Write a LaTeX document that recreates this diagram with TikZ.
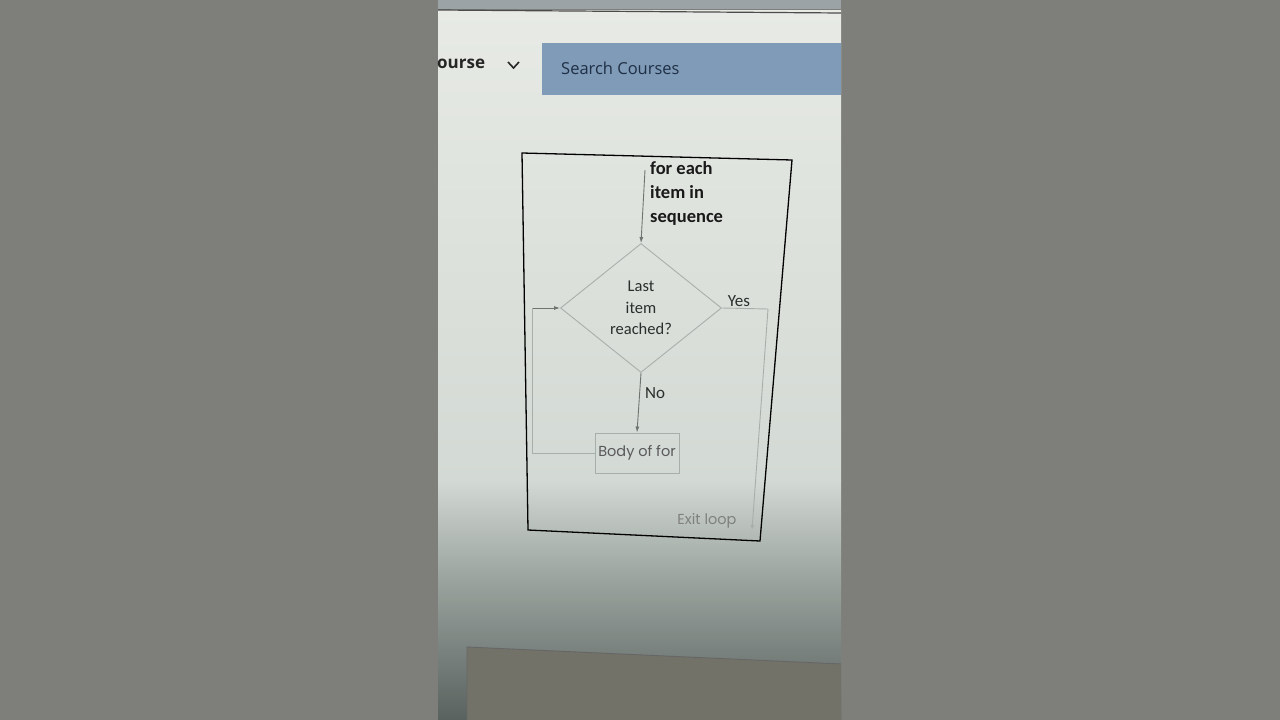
\documentclass[tikz,border=0pt]{standalone}
\usepackage{fontspec}
\setmainfont{Carlito}
\newfontfamily\uifont{Open Sans}
\newfontfamily\geofont{Poppins}
\usetikzlibrary{shapes.geometric,arrows.meta}
\definecolor{sidegray}{HTML}{7E7F7B}
\definecolor{scrA}{HTML}{E7EAE5}
\definecolor{scrB}{HTML}{D3D9D4}
\definecolor{scrC}{HTML}{9AA39E}
\definecolor{scrD}{HTML}{59625E}
\definecolor{topband}{HTML}{9BA3A6}
\definecolor{searchbg}{HTML}{7F9BB8}
\definecolor{searchtxt}{HTML}{1F2F45}
\definecolor{dialine}{HTML}{A8AEAA}
\definecolor{arrowgray}{HTML}{6E7571}
\definecolor{lbltxt}{HTML}{2A2E2C}
\definecolor{paneltop}{HTML}{6F716A}
\tikzset{
  shape line/.style={draw=dialine, line width=0.9pt},
  flow/.style={draw=arrowgray, line width=0.9pt, -{Latex[length=6pt,width=4pt]}},
  plain flow/.style={draw=dialine, line width=0.9pt},
  lbl/.style={text=lbltxt, font=\fontsize{17}{20}\selectfont, inner sep=0pt},
}
\begin{document}
\begin{tikzpicture}[x=1pt,y=-1pt]
\useasboundingbox (0,0) rectangle (1280,720);
% background
\fill[sidegray] (0,0) rectangle (1280,720);
\shade[top color=scrA, bottom color=scrB] (438,10) rectangle (841,480);
\shade[top color=scrB, bottom color=scrC] (438,480) rectangle (841,580);
\shade[top color=scrC, bottom color=scrD] (438,580) rectangle (841,720);
\fill[topband] (438,0) rectangle (841,9);
\draw[black!70, line width=1.2pt] (438,10) -- (841,13);
% bottom panel
\fill[paneltop!95!brown] (467,647) -- (841,664) -- (841,720) -- (467,720) -- cycle;
\draw[black!60, line width=0.9pt] (467,720) -- (467,647) -- (841,664);
% top UI
\node[anchor=west, inner sep=0pt, font=\uifont\bfseries\fontsize{17}{20}\selectfont, text=black!85] (course) at (437,64) {ourse};
\draw[black!85, line width=1.6pt] (508,62) -- (513.5,68) -- (519,62);
\fill[searchbg] (542,43) rectangle (841,95);
\node[anchor=west, inner sep=0pt, font=\uifont\fontsize{16.5}{20}\selectfont, text=searchtxt] (search) at (561,68) {Search Courses};
% diagram frame
\draw[black, line width=1.3pt] (522,153) -- (792,160) -- (760,541) -- (528,530) -- cycle;
% nodes
\coordinate (start) at (645,170);
\node[diamond, shape line, minimum width=161pt, minimum height=129pt, inner sep=0pt, align=center, text=lbltxt, font=\fontsize{16.5}{21.5}\selectfont] (dia) at (641,308) {Last\\item\\reached?};
\node[rectangle, shape line, minimum width=84pt, minimum height=40pt, inner sep=0pt, text=black!65, font=\geofont\fontsize{14.5}{17}\selectfont] (body) at (637,453) {Body of for};
\node[anchor=west, align=left, inner sep=0pt, text=black!90, font=\bfseries\fontsize{18.5}{24}\selectfont] (fortxt) at (650,193) {for each\\item in\\sequence};
\node[lbl] (yes) at (739,301) {Yes};
\node[lbl] (no) at (655,393) {No};
\node[inner sep=0pt, text=black!50, font=\geofont\fontsize{14.5}{17}\selectfont] (exit) at (707,521) {Exit loop};
\coordinate (yescorner) at (768,309);
\coordinate (exitend) at (752,530);
% connectors
\draw[flow] (start) -- (dia.north);
\draw[flow] (dia.south) -- (body.north);
\draw[plain flow] (dia.east) -- (yescorner);
\draw[plain flow, -{Latex[length=5pt,width=4pt]}] (yescorner) -- (exitend);
\draw[plain flow] (body.west) -- ++(-62,0) coordinate (loopc) -- (loopc |- dia.west);
\draw[flow] (loopc |- dia.west) -- (dia.west);
\end{tikzpicture}
\end{document}
